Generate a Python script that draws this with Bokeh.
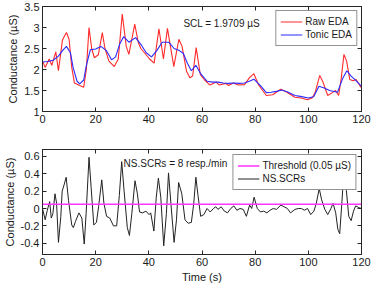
from bokeh.plotting import figure
from bokeh.layouts import column
from bokeh.models import (LinearAxis, FixedTicker, Legend, LegendItem, Range1d, Label,
                          CustomLabelingPolicy)
from bokeh.embed import file_html
from bokeh.resources import INLINE

FONT = "Liberation Sans"

# ---------------- data ----------------
raw_t = [0, 1, 2.5, 3.5, 5, 6, 7.5, 9, 10, 11, 12, 14, 15.5, 16.5, 17.5, 18.5, 19.5, 21, 22.5, 23.5,
         25, 27, 28.5, 30, 31.5, 32.5, 34.7, 36, 37, 40.3, 42, 43.8, 45.5, 47, 49.4, 51.3, 52.5, 54.2,
         55.5, 56.5, 57.8, 59.4, 61, 63, 65.4, 66.5, 68.9, 70, 71.8, 73.6, 76, 77.8, 79.5, 81.3, 84.2,
         86.6, 89.6, 92, 94.9, 97.3, 99.6, 101.4, 102.5, 104.3, 105.5, 107.3, 109, 110.2, 111.4, 112.4,
         113.4, 114.4, 115.6, 116.8, 118, 119.8]
raw_eda = [2.2, 2.05, 2.25, 2.1, 2.42, 1.97, 2.7, 2.88, 2.72, 2.05, 1.68, 1.62, 1.58, 2.0, 3.0, 2.5,
           2.28, 2.35, 2.88, 2.5, 2.2, 2.07, 2.25, 3.32, 2.55, 2.36, 3.08, 2.65, 2.5, 2.25, 2.15, 2.97,
           2.25, 2.98, 2.07, 2.72, 2.55, 1.95, 1.8, 1.85, 2.52, 1.87, 1.75, 1.63, 1.7, 1.63, 1.67, 1.62,
           1.68, 1.63, 1.64, 1.8, 1.9, 1.63, 1.38, 1.4, 1.53, 1.46, 1.34, 1.32, 1.28, 1.32, 1.44, 1.86,
           1.7, 1.38, 1.45, 1.5, 1.38, 1.8, 2.36, 2.2, 1.76, 1.73, 1.76, 1.57]

tonic_t = [0, 2, 4, 6, 7.5, 9, 10.5, 11.5, 13, 14, 15.5, 16.5, 18, 20, 22, 24, 26, 27.5, 29, 30.5,
           32.5, 35, 37, 39, 41, 43, 45, 47.5, 49.5, 51.5, 53, 54.5, 56, 57.7, 59.5, 61.9, 64, 66, 68,
           70, 72, 74, 76, 77.8, 79.5, 81.9, 84.2, 86, 88, 90, 92, 95, 97, 100, 102, 104, 106, 108,
           111, 113, 114.5, 116, 118, 120]
tonic_eda = [2.18, 2.19, 2.22, 2.32, 2.45, 2.55, 2.4, 2.05, 1.72, 1.66, 1.75, 2.1, 2.47, 2.49, 2.55,
             2.45, 2.23, 2.3, 2.6, 2.78, 2.65, 2.76, 2.6, 2.4, 2.3, 2.45, 2.65, 2.65, 2.5, 2.45, 2.38,
             2.15, 1.97, 2.1, 1.9, 1.72, 1.7, 1.7, 1.68, 1.67, 1.68, 1.67, 1.68, 1.72, 1.77, 1.62, 1.45,
             1.46, 1.48, 1.51, 1.47, 1.38, 1.36, 1.32, 1.35, 1.6, 1.56, 1.5, 1.46, 1.8, 1.97, 1.85,
             1.73, 1.6]

scr_t = [0, 1, 1.8, 2.7, 3.3, 3.9, 4.7, 5.3, 6, 6.9, 7.4, 8, 8.9, 9.8, 11, 11.6, 12.4, 13.7, 14.8,
         15.7, 16.4, 17.5, 18.3, 19.3, 20.3, 21.1, 22.3, 23.1, 24.1, 25.3, 26.7, 27.9, 28.9, 29.8,
         30.7, 31.9, 32.7, 33.6, 34.8, 35.7, 36.5, 37.7, 38.9, 40.1, 40.7, 41.9, 42.8, 43.6, 44.5,
         45.6, 46.6, 47.4, 48.3, 49.5, 50.4, 51.2, 52.4, 53.6, 54.8, 56, 56.9, 57.7, 58.5, 59.5,
         60.7, 61.9, 63.1, 64.3, 65.2, 66, 67.2, 68.4, 69.6, 70.8, 72, 73.1, 74.3, 75.5, 76.7, 77.9,
         78.7, 79.6, 80.8, 82, 83.2, 84.4, 85.6, 86.8, 88, 89.7, 90.9, 92.1, 93.3, 95, 96.2, 97.4,
         98.5, 99.7, 100.9, 102.1, 103, 104.1, 105, 106.2, 107.3, 108.5, 109.3, 110.3, 111.1, 111.8,
         112.6, 113.4, 114.3, 115.2, 116.1, 117, 117.8, 119, 120]
ns_scrs = [0.0, -0.13, -0.02, 0.08, -0.11, -0.06, 0.17, 0.06, -0.39, -0.09, 0.2, 0.26, 0.36, 0.09,
           -0.19, -0.22, -0.15, -0.05, -0.11, -0.41, -0.06, 0.59, 0.24, -0.19, -0.16, 0.02, 0.33,
           0.06, -0.09, -0.11, -0.2, -0.2, 0.15, 0.54, 0.2, -0.22, -0.31, -0.06, 0.32, 0.17, -0.04,
           -0.05, -0.03, -0.07, -0.05, -0.26, 0.13, 0.35, 0.13, -0.43, -0.06, 0.41, 0.06, -0.39,
           -0.13, 0.3, 0.17, -0.13, -0.17, -0.16, 0.06, 0.36, 0.15, -0.09, -0.07, 0.0, -0.04, 0.0,
           0.02, -0.01, 0.02, -0.03, -0.05, 0.0, 0.03, -0.02, 0.0, -0.01, -0.09, 0.04, 0.0, 0.13,
           0.0, -0.04, -0.03, -0.05, -0.02, 0.0, -0.01, 0.04, 0.02, 0.0, -0.05, -0.01, 0.0, 0.0,
           -0.02, 0.0, -0.07, -0.03, 0.06, 0.23, 0.1, -0.01, -0.07, 0.0, 0.06, -0.05, -0.24, -0.29,
           0.06, 0.45, 0.21, -0.09, -0.14, -0.03, 0.03, 0.01, 0.0]

threshold = 0.05
threshold_t = [0, 120]

x_ticks = [0, 20, 40, 60, 80, 100, 120]
top_y_ticks = [1, 1.5, 2, 2.5, 3, 3.5]
top_y_labels = ["1", "1.5", "2", "2.5", "3", "3.5"]
bot_y_ticks = [-0.4, -0.2, 0, 0.2, 0.4, 0.6]
bot_y_labels = ["-0.4", "-0.2", "0", "0.2", "0.4", "0.6"]

scl_text = "SCL = 1.9709 \u00b5S"
scr_text = "NS.SCRs = 8 resp./min"
y_title = "Conductance (\u00b5S)"
x_title = "Time (s)"

AX = "#262626"
TXT = "#1a1a1a"
FS = "10px"

no_labels = CustomLabelingPolicy(code="for (const i of indices) indices.unset(i); return indices")


def make_fig(height, top, bottom, y_range, y_ticks, y_labels):
    p = figure(width=371, height=height, output_backend="svg", toolbar_location=None,
               x_range=Range1d(0, 120), y_range=Range1d(*y_range),
               min_border_left=38, min_border_right=10, min_border_top=top,
               min_border_bottom=bottom)
    p.grid.visible = False
    p.outline_line_color = AX
    p.background_fill_color = "white"
    p.border_fill_color = "white"
    p.below[0].ticker = FixedTicker(ticks=x_ticks)
    p.left[0].ticker = FixedTicker(ticks=y_ticks)
    p.left[0].major_label_overrides = dict(zip(y_ticks, y_labels))
    p.add_layout(LinearAxis(ticker=FixedTicker(ticks=y_ticks)), "right")
    p.add_layout(LinearAxis(ticker=FixedTicker(ticks=x_ticks)), "above")
    for ax in p.left + p.below + p.right + p.above:
        ax.major_tick_in = 4
        ax.major_tick_out = 0
        ax.minor_tick_line_color = None
        ax.axis_line_color = AX
        ax.major_tick_line_color = AX
        ax.major_label_text_font = FONT
        ax.major_label_text_font_size = "11px"
        ax.major_label_text_color = TXT
        ax.major_label_standoff = 3
        ax.axis_label_text_font = FONT
        ax.axis_label_text_font_size = "11px"
        ax.axis_label_text_font_style = "normal"
        ax.axis_label_text_color = TXT
        ax.axis_label_standoff = 2
    for ax in p.right + p.above:
        ax.major_label_text_font_size = "1px"
        ax.major_label_standoff = 0
        ax.major_label_policy = no_labels
    p.left[0].axis_label = y_title
    return p


def style_legend(leg, margin):
    leg.location = "top_right"
    leg.margin = margin
    leg.padding = 4
    leg.spacing = 0
    leg.border_line_color = AX
    leg.border_line_width = 1
    leg.background_fill_color = "white"
    leg.background_fill_alpha = 1
    leg.label_text_font = FONT
    leg.label_text_font_size = FS
    leg.label_text_color = TXT
    leg.glyph_width = 22
    leg.glyph_height = 13
    leg.label_height = 13
    leg.label_standoff = 3


# ---------------- top ----------------
p1 = make_fig(129, 6, 18, (1, 3.5), top_y_ticks, top_y_labels)
r_raw = p1.line(raw_t, raw_eda, line_color="#ff2a2a", line_width=1.1)
r_ton = p1.line(tonic_t, tonic_eda, line_color="#2a2aff", line_width=1.1)
p1.add_layout(Label(x=53, y=3.1, text=scl_text, text_font=FONT, text_font_size=FS,
                    text_color=TXT, text_baseline="middle", text_align="left"))
leg1 = Legend(items=[LegendItem(label="Raw EDA", renderers=[r_raw]),
                     LegendItem(label="Tonic EDA", renderers=[r_ton])])
style_legend(leg1, 4)
p1.add_layout(leg1)

# ---------------- bottom ----------------
p2 = make_fig(158, 20, 33, (-0.53, 0.68), bot_y_ticks, bot_y_labels)
r_scr = p2.line(scr_t, ns_scrs, line_color="#222222", line_width=1)
r_thr = p2.line(threshold_t, [threshold] * len(threshold_t), line_color="#ff33ff", line_width=1.5)
p2.add_layout(Label(x=30.5, y=0.52, text=scr_text, text_font=FONT, text_font_size=FS,
                    text_color=TXT, text_baseline="middle", text_align="left"))
p2.below[0].axis_label = x_title
leg2 = Legend(items=[LegendItem(label="Threshold (0.05 \u00b5S)", renderers=[r_thr]),
                     LegendItem(label="NS.SCRs", renderers=[r_scr])])
style_legend(leg2, 5)
p2.add_layout(leg2)

layout = column(p1, p2, spacing=0)
open("out.html", "w").write(file_html(layout, INLINE))
